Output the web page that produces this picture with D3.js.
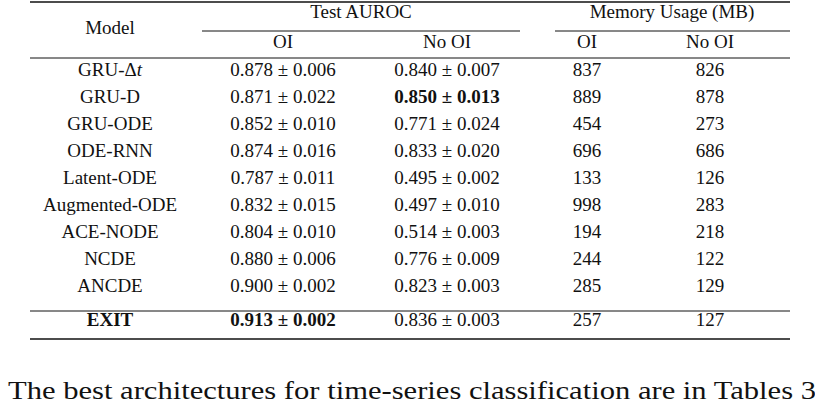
<!DOCTYPE html>
<html><head><meta charset="utf-8">
<script src="https://cdn.jsdelivr.net/npm/d3@7"></script>
<style>body{margin:0;background:#fff}text{font-family:"Liberation Serif",serif;fill:#111}</style>
</head><body>
<script>
const models = ["GRU-\u0394t","GRU-D","GRU-ODE","ODE-RNN","Latent-ODE","Augmented-ODE","ACE-NODE","NCDE","ANCDE","EXIT"];
const aurocOI = ["0.878 \u00b1 0.006","0.871 \u00b1 0.022","0.852 \u00b1 0.010","0.874 \u00b1 0.016","0.787 \u00b1 0.011","0.832 \u00b1 0.015","0.804 \u00b1 0.010","0.880 \u00b1 0.006","0.900 \u00b1 0.002","0.913 \u00b1 0.002"];
const aurocNoOI = ["0.840 \u00b1 0.007","0.850 \u00b1 0.013","0.771 \u00b1 0.024","0.833 \u00b1 0.020","0.495 \u00b1 0.002","0.497 \u00b1 0.010","0.514 \u00b1 0.003","0.776 \u00b1 0.009","0.823 \u00b1 0.003","0.836 \u00b1 0.003"];
const memOI = [837,889,454,696,133,998,194,244,285,257];
const memNoOI = [826,878,273,686,126,283,218,122,129,127];
// [row, column] of bold cells
const boldCells = [[1,2],[9,0],[9,1]];

const svg = d3.select("body").append("svg").attr("width",815).attr("height",414);
const colX = [110,283,447,587,710];
const y = d3.scalePoint().domain(d3.range(9)).range([72,288]);
const rowY = i => i < 9 ? y(i) : 322;

function txt(x,yy,s,opts={}){
  const t = svg.append("text").attr("x",x).attr("y",yy).attr("text-anchor","middle")
    .attr("dominant-baseline","middle").attr("font-size",opts.size||19)
    .attr("font-weight",opts.bold?"bold":"normal");
  return t.text(s);
}
function rule(x1,x2,yy,w){svg.append("line").attr("x1",x1).attr("x2",x2).attr("y1",yy).attr("y2",yy).attr("stroke","#111").attr("stroke-width",w);}

rule(30,790,2,1.6); rule(202,520,31,1); rule(555,790,31,1); rule(30,790,58,1);
rule(30,790,311,1); rule(30,790,339,1.6);

txt(110,30,"Model"); txt(361,14,"Test AUROC"); txt(672,14,"Memory Usage (MB)");
["OI","No OI","OI","No OI"].forEach((s,i)=>txt(colX[i+1],44,s));

models.forEach((m,i)=>{
  const row=[m,aurocOI[i],aurocNoOI[i],memOI[i],memNoOI[i]];
  row.forEach((v,j)=>{
    const bold = boldCells.some(c=>c[0]===i&&c[1]===j);
    const t = txt(colX[j],rowY(i),"",{bold});
    if(j===0 && i===0){ t.append("tspan").text("GRU-\u0394"); t.append("tspan").attr("font-style","italic").text("t"); }
    else t.text(v);
  });
});

svg.append("text").attr("x",8).attr("y",393).attr("dominant-baseline","middle")
  .attr("font-size",25).attr("textLength",808).attr("lengthAdjust","spacingAndGlyphs")
  .text("The best architectures for time-series classification are in Tables 3");
</script>
</body></html>
